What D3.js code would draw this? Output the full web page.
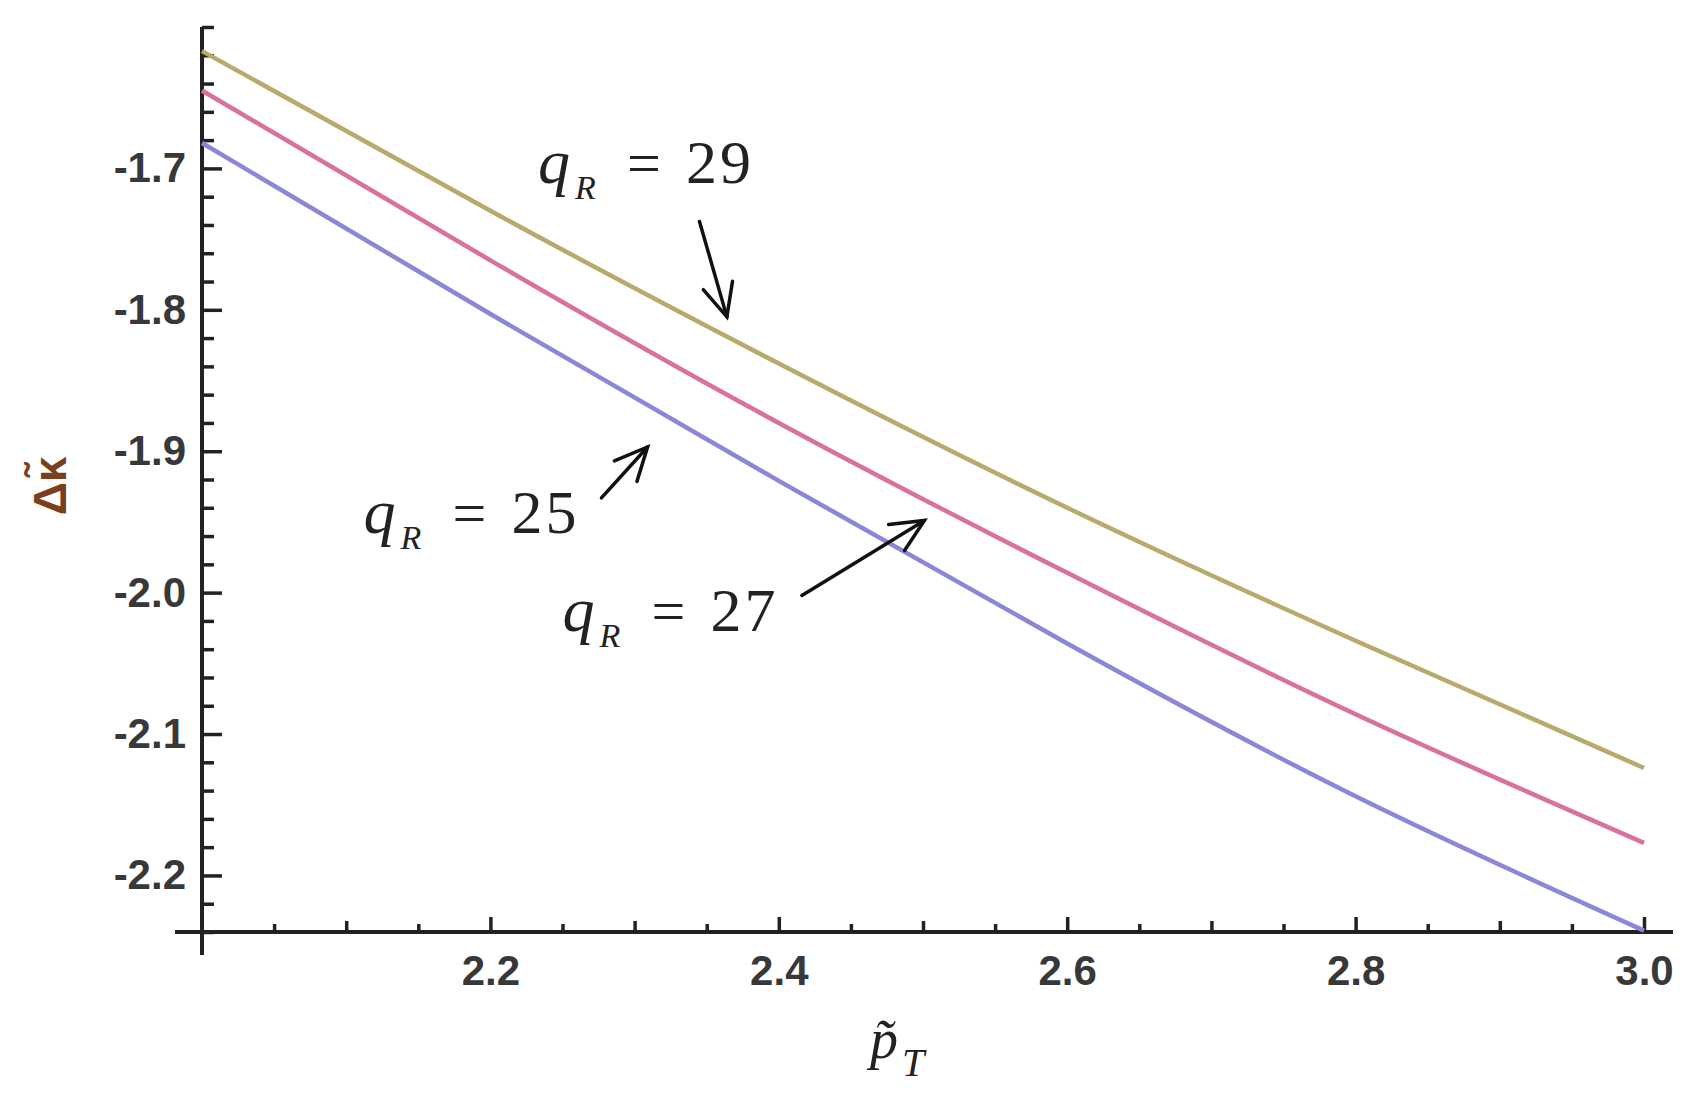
<!DOCTYPE html>
<html>
<head>
<meta charset="utf-8">
<script src="https://cdnjs.cloudflare.com/ajax/libs/d3/7.8.5/d3.min.js"></script>
<style>
  body { margin: 0; background: #fff; }
  svg { display: block; }
  .tick text { font-family: "Liberation Sans", Arial, sans-serif; font-weight: bold; font-size: 42px; fill: #383838; }
  .tick line { stroke: #222; stroke-width: 3.5; }
  .ann { font-family: "Liberation Serif", "Times New Roman", serif; fill: #222; }
</style>
</head>
<body>
<script>
// data
const pT = [2.0, 2.2, 2.4, 2.6, 2.8, 3.0];
const dk25 = [-1.682, -1.803, -1.921, -2.036, -2.144, -2.239];
const dk27 = [-1.645, -1.765, -1.880, -1.986, -2.086, -2.177];
const dk29 = [-1.617, -1.730, -1.838, -1.940, -2.034, -2.124];
const xTicks = [2.2, 2.4, 2.6, 2.8, 3.0];
const yTicks = [-2.2, -2.1, -2.0, -1.9, -1.8, -1.7];
const qValues = ["25", "27", "29"];

const W = 1699, H = 1102;
const x = d3.scaleLinear().domain([2, 3]).range([202, 1644]);
const y = d3.scaleLinear().domain([-2.24, -1.60]).range([932, 27]);

const svg = d3.select("body").append("svg").attr("width", W).attr("height", H);

// axes lines (crossing at origin)
svg.append("line").attr("x1", x(2)).attr("x2", x(2))
  .attr("y1", y(-1.6)).attr("y2", y(-2.24) + 23)
  .attr("stroke", "#222").attr("stroke-width", 4);
svg.append("line").attr("x1", x(2) - 27).attr("x2", x(3) + 29)
  .attr("y1", y(-2.24)).attr("y2", y(-2.24))
  .attr("stroke", "#222").attr("stroke-width", 4);

// y ticks
const yMinor = d3.range(-2.24, -1.60, 0.02).map(v => +v.toFixed(2))
  .filter(v => !yTicks.some(t => Math.abs(t - v) < 1e-6));
svg.append("g").attr("transform", `translate(${x(2)},0)`)
  .call(d3.axisLeft(y).tickValues(yMinor).tickSizeInner(-12).tickSizeOuter(0).tickFormat(""))
  .call(g => g.select(".domain").remove());
svg.append("g").attr("transform", `translate(${x(2)},0)`)
  .call(d3.axisLeft(y).tickValues(yTicks).tickSizeInner(-20).tickSizeOuter(0)
    .tickPadding(16).tickFormat(d => d.toFixed(1)))
  .call(g => g.select(".domain").remove());

// x ticks
const xMinor = d3.range(2.05, 3.0, 0.05).map(v => +v.toFixed(2))
  .filter(v => !xTicks.some(t => Math.abs(t - v) < 1e-6));
svg.append("g").attr("transform", `translate(0,${y(-2.24)})`)
  .call(d3.axisBottom(x).tickValues(xMinor)
    .tickSizeInner(-8).tickSizeOuter(0).tickFormat(""))
  .call(g => g.select(".domain").remove())
  .call(g => g.selectAll(".tick line")
    .attr("y2", d => Math.abs(Math.round(d * 100) % 10) === 0 ? -11 : -8));
svg.append("g").attr("transform", `translate(0,${y(-2.24)})`)
  .call(d3.axisBottom(x).tickValues(xTicks).tickSizeInner(-15).tickSizeOuter(0)
    .tickPadding(23).tickFormat(d => d.toFixed(1)))
  .call(g => g.select(".domain").remove());

// curves
const series = [
  { vals: dk25, color: "#8a87d8" },
  { vals: dk27, color: "#d9719d" },
  { vals: dk29, color: "#b8aa6c" }
];
const line = d3.line().x((d, i) => x(pT[i])).y(d => y(d)).curve(d3.curveNatural);
svg.append("g").selectAll("path").data(series).join("path")
  .attr("d", d => line(d.vals))
  .attr("fill", "none")
  .attr("stroke", d => d.color)
  .attr("stroke-width", 4.5);

// annotations: label anchor (data coords) and arrow from -> to
const anns = [
  { q: qValues[0], at: [2.112, -1.958], from: [2.277, -1.933], to: [2.309, -1.897] },
  { q: qValues[1], at: [2.250, -2.027], from: [2.416, -2.002], to: [2.501, -1.949] },
  { q: qValues[2], at: [2.233, -1.710], from: [2.345, -1.7375], to: [2.364, -1.805] }
];
anns.forEach(a => {
  const x0 = x(a.at[0]), y0 = y(a.at[1]);
  svg.append("text").attr("class", "ann").attr("x", x0).attr("y", y0)
    .attr("font-size", 64).attr("font-style", "italic").text("q");
  svg.append("text").attr("class", "ann").attr("x", x0 + 37).attr("y", y0 + 16)
    .attr("font-size", 34).attr("font-style", "italic").text("R");
  svg.append("text").attr("class", "ann").attr("x", x0 + 89).attr("y", y0)
    .attr("font-size", 60).text("=");
  svg.append("text").attr("class", "ann").attr("x", x0 + 148).attr("y", y0)
    .attr("font-size", 62).attr("letter-spacing", 3).text(a.q);

  const x1 = x(a.from[0]), y1 = y(a.from[1]), x2 = x(a.to[0]), y2 = y(a.to[1]);
  const ang = Math.atan2(y2 - y1, x2 - x1), L = 36, sp = 25 * Math.PI / 180;
  const g = svg.append("g").attr("stroke", "#111").attr("stroke-width", 3.5)
    .attr("stroke-linecap", "round").attr("fill", "none");
  g.append("line").attr("x1", x1).attr("y1", y1).attr("x2", x2).attr("y2", y2);
  g.append("polyline").attr("points", [
    [x2 - L * Math.cos(ang - sp), y2 - L * Math.sin(ang - sp)],
    [x2, y2],
    [x2 - L * Math.cos(ang + sp), y2 - L * Math.sin(ang + sp)]
  ].map(p => p.join(",")).join(" "));
});

// axis labels
svg.append("text")
  .attr("transform", "translate(66,486) rotate(-90)")
  .attr("text-anchor", "middle")
  .attr("font-family", "Liberation Sans, Arial, sans-serif")
  .attr("font-weight", "bold").attr("font-size", 46).attr("fill", "#7a3f1d")
  .text("Δκ\u0303");

const xl = svg.append("text").attr("class", "ann").attr("x", 870).attr("y", 1058);
xl.append("tspan").attr("font-size", 56).attr("font-style", "italic").text("p\u0303");
xl.append("tspan").attr("font-size", 40).attr("font-style", "italic")
  .attr("dx", 4).attr("dy", 18).text("T");
</script>
</body>
</html>
